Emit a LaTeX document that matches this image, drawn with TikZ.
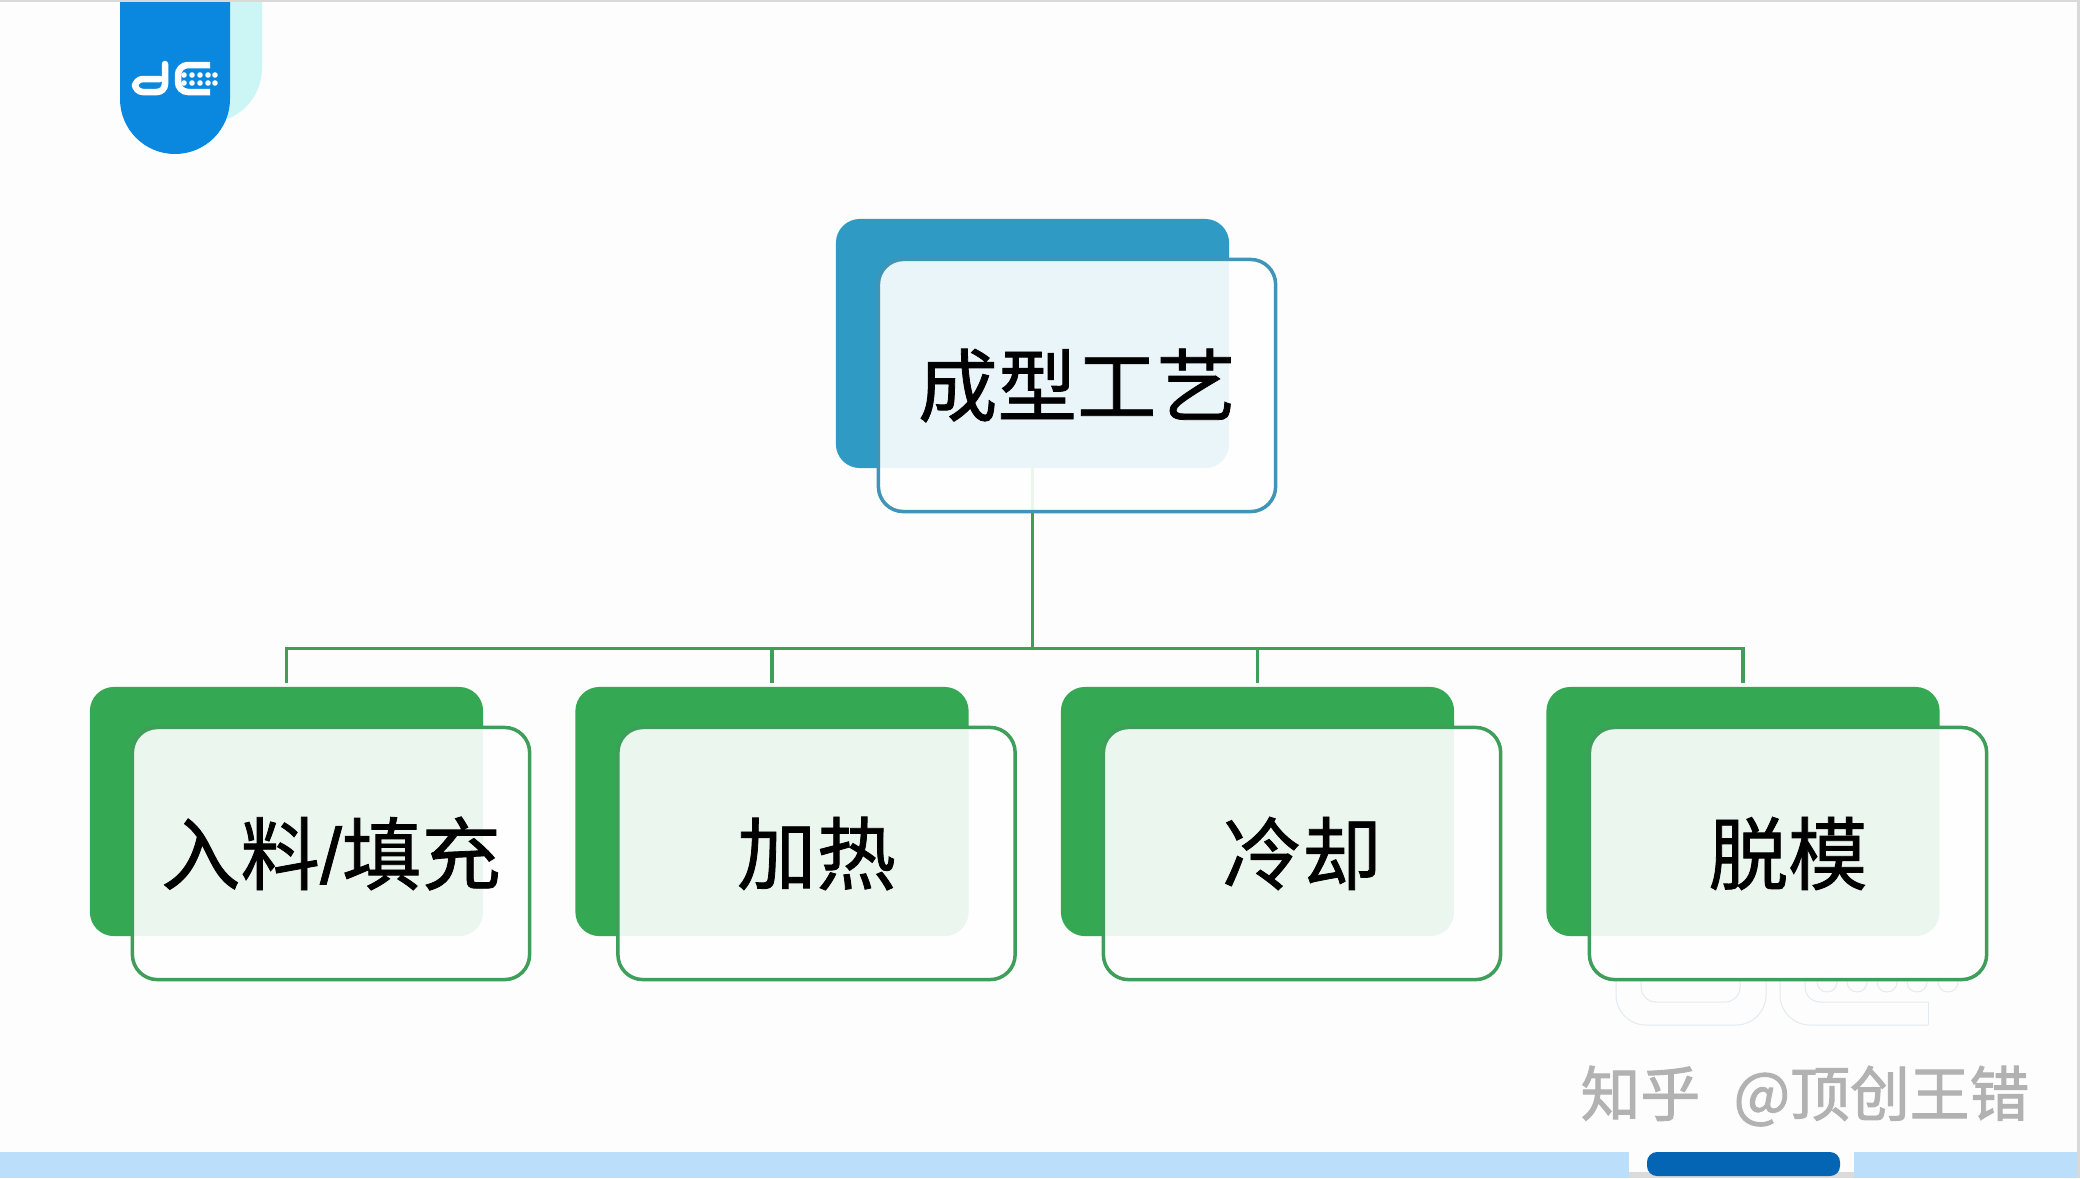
\documentclass[tikz,border=0pt]{standalone}
\usepackage{fontspec}
\usepackage{xcolor}
\usetikzlibrary{positioning}
\newfontfamily\cjk[FakeBold=1]{Noto Sans CJK SC}
\newfontfamily\marksans[FakeBold=1.6]{Noto Sans CJK SC}
\newfontfamily\slashfont[FakeBold=1]{Liberation Sans}
\definecolor{pagebg}{RGB}{253,253,253}
\definecolor{topblue}{RGB}{47,154,195}
\definecolor{topline}{RGB}{64,148,182}
\definecolor{stepgreen}{RGB}{52,168,83}
\definecolor{stepline}{RGB}{62,158,90}
\definecolor{logoblue}{RGB}{10,136,224}
\definecolor{logopale}{RGB}{204,245,246}
\definecolor{barblue}{RGB}{187,223,251}
\definecolor{pillblue}{RGB}{5,101,181}
\definecolor{ghostline}{RGB}{226,234,242}
\begin{document}
\begin{tikzpicture}[
        x=0.01cm, y=-0.01cm,
        back/.style={rounded corners=0.24cm, minimum width=3.93cm, minimum height=2.49cm, outer sep=0pt, inner sep=0pt},
        front/.style={draw, line width=0.035cm, fill=white, fill opacity=0.9, text opacity=1, rounded corners=0.25cm, minimum width=3.97cm, minimum height=2.52cm, inner sep=0pt, font=\cjk\fontsize{22.6}{26}\selectfont},
        conn/.style={stepline, line width=0.035cm},
        drop/.style={conn, shorten >=0.04cm},
        ghost/.style={ghostline, line width=0.01cm}
    ]
        \useasboundingbox (0,0) rectangle (2080,1178);
        \fill[pagebg] (0,0) rectangle (2080,1178);
        \fill[black!15] (0,0) rectangle (2080,2);
        \fill[black!15] (2077,0) rectangle (2080,1178);

        % Logo
        \fill[logopale] (152,2) -- (262,2) -- (262,68) arc (0:90:55) -- (152,123) -- cycle;
        \fill[logoblue] (120,2) -- (230,2) -- (230,99) arc (0:180:55) -- cycle;
        \draw[white, line width=0.065cm, line cap=round, rounded corners=0.08cm] (165,64) -- (165,92) -- (135,92) -- (135,79) -- (160,79);
        \draw[white, line width=0.065cm, rounded corners=0.1cm] (210,65) -- (178,65) -- (178,92) -- (210,92);
        \foreach \dotx in {184,192,200,208,215} {
            \fill[white] (\dotx,75) circle (2.8);
            \fill[white] (\dotx,83) circle (2.8);
        }

        % Faint mark under the last box
        \draw[ghost, rounded corners=0.3cm] (1616,960) -- (1616,1025) -- (1766,1025) -- (1766,960);
        \draw[ghost, rounded corners=0.15cm] (1641,960) -- (1641,1002) -- (1740,1002) -- (1740,960);
        \draw[ghost, rounded corners=0.3cm] (1780,960) -- (1780,1025) -- (1928,1025);
        \draw[ghost] (1928,1025) -- (1928,1002);
        \draw[ghost, rounded corners=0.15cm] (1928,1002) -- (1805,1002) -- (1805,960);
        \draw[ghost] (1827,982) circle (10);
        \draw[ghost] (1857,982) circle (10);
        \draw[ghost] (1887,982) circle (10);
        \draw[ghost] (1917,982) circle (10);
        \draw[ghost] (1948,982) circle (10);

        % Solid panels
        \node[back, fill=topblue] (forming) at (1032.5, 343.5) {};
        \node[back, fill=stepgreen] (feeding) at (286.5, 811.5) {};
        \node[back, fill=stepgreen] (heating) at (772, 811.5) {};
        \node[back, fill=stepgreen] (cooling) at (1257.5, 811.5) {};
        \node[back, fill=stepgreen] (demould) at (1743, 811.5) {};

        % Tree
        \coordinate (hub) at (1032.5, 648.5);
        \draw[conn] (forming.south) -- (hub);
        \draw[drop] (hub) -| (feeding.north);
        \draw[drop] (hub) -| (heating.north);
        \draw[drop] (hub) -| (cooling.north);
        \draw[drop] (hub) -| (demould.north);

        % Labelled boxes
        \node[front, draw=topline] (formingtxt) at (1077, 385.5) {成型工艺};
        \node[front, draw=stepline] (feedingtxt) at (331, 853.5) {入料{\slashfont/}填充};
        \node[front, draw=stepline] (heatingtxt) at (816.5, 853.5) {加热};
        \node[front, draw=stepline] (coolingtxt) at (1302, 853.5) {冷却};
        \node[front, draw=stepline] (demouldtxt) at (1788, 853.5) {脱模};

        % Bottom bar
        \fill[barblue] (0,1152) rectangle (1629,1178);
        \fill[barblue] (1854,1152) rectangle (2077,1178);
        \fill[black!14] (1629,1172) rectangle (1854,1178);
        \fill[pillblue, rounded corners=0.1cm] (1647,1152) rectangle (1840,1176);

        % Watermark
        \node[font=\marksans\fontsize{17}{20}\selectfont, text=black!30, inner sep=0pt] (mark) at (1805,1096) {知乎\hspace{0.2cm} @顶创王错};
    \end{tikzpicture}
\end{document}
